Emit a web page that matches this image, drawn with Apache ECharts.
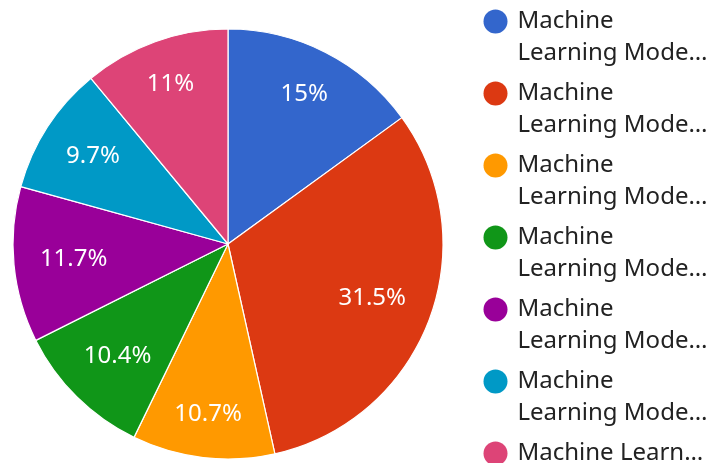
<!DOCTYPE html>
<html>
<head>
<meta charset="utf-8">
<script src="https://cdn.jsdelivr.net/npm/echarts@6/dist/echarts.min.js"></script>
<style>html,body{margin:0;padding:0;background:#fff}#c{width:713px;height:463px}</style>
</head>
<body>
<div id="c"></div>
<script>
const categories = [
  "Machine Learning Model A",
  "Machine Learning Model B",
  "Machine Learning Model C",
  "Machine Learning Model D",
  "Machine Learning Model E",
  "Machine Learning Model F",
  "Machine Learning Model G"
];
const values = [15, 31.5, 10.7, 10.4, 11.7, 9.7, 11];
const colors = ["#3366cc", "#dc3912", "#ff9900", "#109618", "#990099", "#0099c6", "#dd4477"];

const font = "'Noto Sans', sans-serif";
const chart = echarts.init(document.getElementById('c'));
const pieData = categories.map((n, i) => ({ name: n, value: values[i], itemStyle: { color: colors[i] } }));

// place each label so its outermost corner sits at a fixed fraction of the radius
function placeLabel(p) {
  const data = chart.getModel().getSeriesByIndex(0).getData();
  const lay = data.getItemLayout(p.dataIndex);
  const mid = (lay.startAngle + lay.endAngle) / 2;
  const ux = Math.cos(mid), uy = Math.sin(mid);
  const w = p.labelRect.width, h = p.labelRect.height;
  const sx = (ux >= 0 ? 1 : -1) * w / 2, sy = (uy >= 0 ? 1 : -1) * h / 2;
  const us = ux * sx + uy * sy;
  const R = lay.r * 0.884;
  const t = -us + Math.sqrt(us * us - (sx * sx + sy * sy) + R * R);
  return { x: lay.cx + t * ux, y: lay.cy + t * uy };
}

const legendData = categories.map((n, i) =>
  i === categories.length - 1 ? { name: n, textStyle: { width: 192 } } : { name: n }
);

chart.setOption({
  animation: false,
  color: colors,
  legend: {
    orient: 'vertical',
    left: 483.5,
    top: -26.5,
    height: 1200,
    padding: 0,
    itemGap: -24,
    itemWidth: 24,
    itemHeight: 24,
    icon: 'circle',
    selectedMode: false,
    itemStyle: { borderWidth: 0 },
    data: legendData,
    formatter: function (name) {
      const idx = categories.indexOf(name);
      if (idx === categories.length - 1) {
        return '\n' + name + '\n';
      }
      const sp = name.indexOf(' ');
      return '\n' + name.slice(0, sp) + '\n' + name.slice(sp + 1);
    },
    textStyle: {
      fontFamily: font,
      fontSize: 24,
      lineHeight: 32,
      color: '#222222',
      width: 196,
      overflow: 'truncate',
      ellipsis: '…',
      padding: [0, 0, 0, 5]
    }
  },
  series: [
    {
      type: 'pie',
      center: [228, 244],
      radius: [0, 215],
      startAngle: 90,
      clockwise: true,
      silent: true,
      itemStyle: { borderColor: '#ffffff', borderWidth: 1.2 },
      label: {
        show: true,
        position: 'inside',
        formatter: '{c}%',
        color: '#ffffff',
        fontFamily: font,
        fontSize: 24
      },
      labelLine: { show: false },
      labelLayout: placeLabel,
      data: pieData
    }
  ]
});
</script>
</body>
</html>
